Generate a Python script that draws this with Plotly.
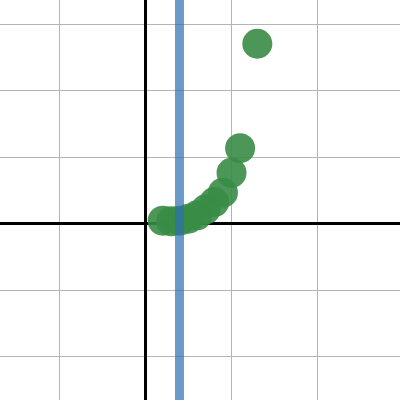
import plotly.graph_objects as go

# Desmos-style scatter with a vertical line

# green points
pts_x = [0.2, 0.3, 0.4, 0.5, 0.6, 0.7, 0.8, 0.9, 1.0, 1.1, 1.3]
pts_y = [0.05, 0.04, 0.05, 0.08, 0.13, 0.22, 0.33, 0.47, 0.77, 1.14, 2.71]

# vertical line x = c
line_x = [0.395, 0.395]
line_y = [-5, 5]

green = '#388c46'
blue = '#2d70b3'

fig = go.Figure()

fig.add_trace(go.Scatter(
    x=pts_x, y=pts_y,
    mode='markers',
    marker=dict(size=30, color=green, opacity=0.9, line=dict(width=0)),
    hoverinfo='skip'
))

fig.add_trace(go.Scatter(
    x=line_x, y=line_y,
    mode='lines',
    line=dict(color=blue, width=9),
    opacity=0.7,
    hoverinfo='skip'
))

axis_style = dict(
    showgrid=True, gridcolor='#b4b4b4', gridwidth=1,
    zeroline=True, zerolinecolor='black', zerolinewidth=3,
    showticklabels=False, ticks='', showline=False,
    dtick=1, tick0=0,
)

fig.update_layout(
    width=400, height=400,
    margin=dict(l=0, r=0, t=0, b=0),
    paper_bgcolor='white', plot_bgcolor='white',
    showlegend=False,
    xaxis=dict(range=[-1.692, 2.959], **axis_style),
    yaxis=dict(range=[-2.647, 3.368], **axis_style),
)

# drop the page margin so the plot fills the window
fig.write_html("out.html", config={'displayModeBar': False},
               post_script="document.body.style.margin='0';")
